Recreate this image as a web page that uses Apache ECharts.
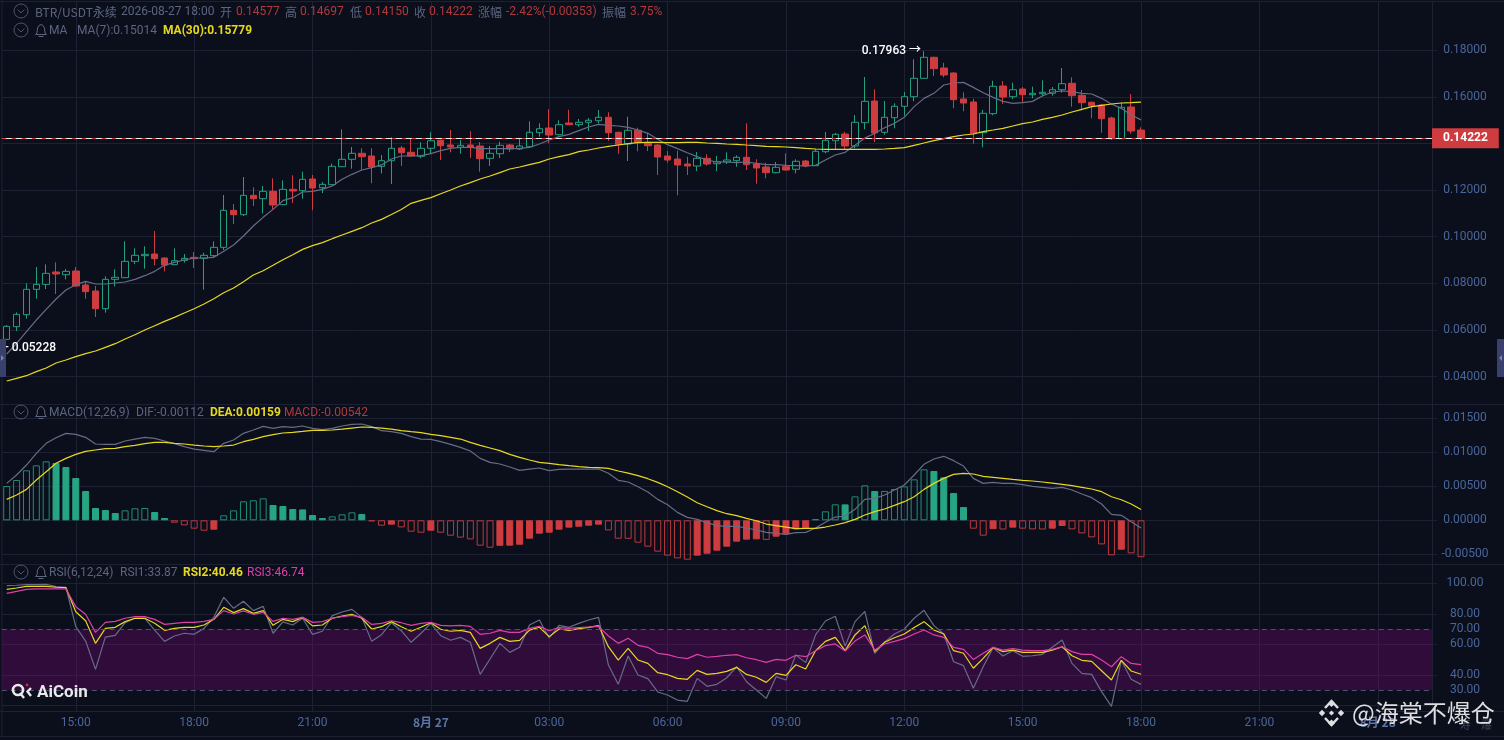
<!DOCTYPE html>
<html><head><meta charset="utf-8">
<style>html,body{margin:0;padding:0;background:#0b0f1c}#c{width:1504px;height:740px}</style>
<script src="https://cdn.jsdelivr.net/npm/echarts@6/dist/echarts.min.js"></script>
</head><body><div id="c"></div>
<script>
const opens=[0.05595,0.06138,0.06653,0.07741,0.07955,0.08485,0.08370,0.08527,0.07927,0.07669,0.06911,0.08170,0.08241,0.08942,0.09186,0.09257,0.09086,0.08799,0.08985,0.09114,0.09071,0.09186,0.09543,0.11131,0.10945,0.11775,0.11632,0.11947,0.11375,0.12033,0.11976,0.12476,0.12104,0.12233,0.13004,0.13322,0.13579,0.13464,0.13021,0.13262,
0.13807,0.13622,0.13451,0.13794,0.14137,0.13936,0.13837,0.13936,0.13893,0.13365,
0.13562,0.13936,0.13764,0.13863,0.14464,0.14665,0.14378,0.14880,0.14807,0.14910,
0.14979,0.15125,0.14481,0.13979,0.14567,0.14051,0.13936,0.13464,0.13335,0.13120,
0.13034,0.13365,0.13133,0.13206,0.13262,0.13408,0.13120,0.12991,0.12747,0.13004,
0.12893,0.13249,0.13047,0.13648,0.14120,0.14407,0.13893,0.14893,0.15824,0.14481,
0.15107,0.15597,0.16009,0.16798,0.17700,0.17240,0.17026,0.15910,0.15781,0.14464,
0.15279,0.16468,0.16009,0.16339,0.16094,0.16137,0.16155,0.16309,0.16584,0.16069,
0.15768,0.15652,0.15094,0.14206,0.15567,0.14577];
const closes=[0.06153,0.06668,0.07741,0.07955,0.08427,0.08399,0.08513,0.07884,0.07641,0.06911,0.08170,0.08256,0.08942,0.09200,0.09243,0.09057,0.08785,0.08971,0.09071,0.09057,0.09200,0.09543,0.11131,0.10945,0.11775,0.11632,0.11947,0.11360,0.12033,0.11961,0.12462,0.12090,0.12247,0.13020,0.13322,0.13579,0.13433,0.12991,0.13262,0.13794,
0.13605,0.13464,0.13794,0.14120,0.13906,0.13850,0.13923,0.13850,0.13348,0.13579,
0.13923,0.13764,0.13893,0.14481,0.14635,0.14365,0.14807,0.14807,0.14910,0.14996,
0.15125,0.14464,0.13966,0.14567,0.14051,0.13906,0.13421,0.13292,0.13077,0.13034,
0.13365,0.13120,0.13219,0.13292,0.13408,0.13090,0.12948,0.12747,0.12978,0.12863,
0.13236,0.13034,0.13665,0.14137,0.14395,0.13893,0.14910,0.15811,0.14451,0.15125,
0.15597,0.16009,0.16798,0.17700,0.17210,0.16940,0.15880,0.15738,0.14438,0.15296,
0.16455,0.15996,0.16309,0.16094,0.16155,0.16197,0.16309,0.16567,0.16051,0.15751,
0.15622,0.15064,0.14206,0.15554,0.14537,0.14222];
const lows=[0.05566,0.05952,0.06482,0.07340,0.07755,0.07540,0.08170,0.07855,0.07340,0.06553,0.06739,0.07870,0.08227,0.08828,0.08628,0.08771,0.08513,0.08785,0.08885,0.08656,0.07726,0.09114,0.09429,0.10545,0.10888,0.11317,0.11003,0.11174,0.11360,0.11446,0.11632,0.11131,0.11875,0.12204,0.12991,0.12918,0.12863,0.12292,0.12713,0.12262,
0.13034,0.13442,0.13365,0.13549,0.13292,0.13622,0.13562,0.13378,0.12790,0.13034,
0.13378,0.13635,0.13721,0.13850,0.14292,0.14009,0.14352,0.14794,0.14721,0.14537,
0.14867,0.14120,0.13562,0.13249,0.13665,0.13678,0.12648,0.13176,0.11777,0.12648,
0.12820,0.13047,0.12820,0.13120,0.13004,0.12863,0.12275,0.12506,0.12721,0.12833,
0.12721,0.12978,0.13034,0.13580,0.13751,0.13751,0.13794,0.14609,0.14064,0.14378,
0.14653,0.15193,0.15811,0.16768,0.16897,0.16841,0.15511,0.15382,0.13991,0.13837,
0.15210,0.15695,0.15910,0.15738,0.15940,0.16039,0.16051,0.16180,0.15579,0.15425,
0.15082,0.14464,0.14150,0.14193,0.14421,0.14150];
const highs=[0.06210,0.06754,0.07998,0.08699,0.08814,0.08900,0.08613,0.08699,0.08070,0.07884,0.08299,0.08599,0.09801,0.09500,0.09586,0.10244,0.09114,0.09500,0.09257,0.09343,0.09314,0.09801,0.11790,0.11403,0.12562,0.12119,0.12176,0.12505,0.12419,0.12634,0.12791,0.12648,0.12348,0.13134,0.14609,0.13850,0.13794,0.13794,0.13507,0.14266,
0.13893,0.14193,0.14051,0.14481,0.14172,0.14579,0.14150,0.14524,0.14064,0.13893,
0.14077,0.13979,0.14193,0.14953,0.14867,0.15468,0.14996,0.15451,0.15051,0.15095,
0.15438,0.15339,0.14506,0.15150,0.14678,0.14464,0.13979,0.13678,0.13691,0.13433,
0.13635,0.13537,0.13464,0.13622,0.13493,0.14867,0.13322,0.13176,0.13206,0.13579,
0.13322,0.13292,0.13777,0.14494,0.14451,0.14506,0.15223,0.16854,0.16326,0.15824,
0.15725,0.16210,0.17614,0.17963,0.17725,0.17468,0.17056,0.16197,0.15923,0.15438,
0.16695,0.16683,0.16610,0.16425,0.16438,0.16712,0.16425,0.17240,0.16841,0.16296,
0.15794,0.15695,0.15150,0.15751,0.16125,0.14697];
const ma7=[0.04965,0.05423,0.05924,0.06424,0.06882,0.07326,0.07712,0.07941,0.08084,0.07970,0.07970,0.08013,0.08056,0.08170,0.08327,0.08513,0.08771,0.08899,0.08999,0.09086,0.09086,0.09114,0.09372,0.09643,0.10030,0.10459,0.10831,0.11174,0.11546,0.11675,0.11918,0.11947,0.12033,0.12176,0.12462,0.12677,0.12863,0.12963,0.13080,0.13334,
0.13463,0.13463,0.13478,0.13563,0.13692,0.13792,0.13835,0.13835,0.13792,0.13778,0.13778,0.13778,0.13792,0.13835,0.13978,0.14150,0.14293,0.14393,0.14551,0.14708,0.14822,0.14779,0.14751,0.14694,0.14579,0.14436,0.14179,0.13950,0.13778,0.13606,0.13435,0.13292,0.13206,0.13206,0.13177,0.13206,
0.13148,0.13091,0.13091,0.13062,0.13048,0.13034,0.13062,0.13291,0.13506,0.13621,0.13921,0.14236,0.14436,0.14679,0.14865,0.15123,0.15581,0.15938,0.16153,0.16511,0.16596,0.16625,0.16410,0.16181,0.15981,0.15809,0.15724,0.15752,0.15809,0.16038,0.16210,0.16253,0.16224,0.16153,0.16124,0.15938,0.15695,0.15509,0.15223,0.15014];
const ma30=[0.03806,0.03921,0.04035,0.04207,0.04364,0.04579,0.04708,0.04851,0.04980,0.05094,0.05251,0.05409,0.05609,0.05795,0.05995,0.06181,0.06367,0.06539,0.06725,0.06911,0.07111,0.07340,0.07598,0.07798,0.08070,0.08356,0.08542,0.08771,0.09014,0.09229,0.09457,0.09615,0.09744,0.09915,0.10073,0.10230,0.10387,0.10588,0.10745,0.10950,
0.11170,0.11432,0.11560,0.11675,0.11846,0.12004,0.12176,0.12319,0.12476,0.12605,0.12748,0.12905,0.12991,0.13091,0.13191,0.13334,0.13435,0.13520,0.13649,0.13721,0.13807,0.13878,0.13935,0.13993,0.14035,0.14050,0.14050,0.14035,0.14035,0.14050,0.14050,0.14021,0.14007,0.13978,0.13964,0.13935,
0.13907,0.13878,0.13864,0.13849,0.13821,0.13792,0.13764,0.13749,0.13749,0.13749,0.13749,0.13749,0.13749,0.13764,0.13792,0.13821,0.13921,0.14021,0.14121,0.14207,0.14293,0.14364,0.14407,0.14508,0.14579,0.14651,0.14751,0.14851,0.14922,0.15037,0.15123,0.15223,0.15352,0.15466,0.15581,0.15638,0.15695,0.15738,0.15752,0.15779];
const macdHist=[0.00504,0.00593,0.00735,0.00808,0.00867,0.00843,0.00784,0.00622,0.00431,0.00181,0.00151,0.00107,0.00146,0.00176,0.00181,0.00122,0.00034,-0.00035,-0.00074,-0.00123,-0.00153,-0.00138,0.00073,0.00146,0.00279,0.00294,0.00323,0.00225,0.00210,0.00166,0.00160,0.00078,0.00034,0.00058,0.00088,0.00117,0.00093,-0.00015,-0.00079,-0.00064,
-0.00104,-0.00167,-0.00182,-0.00153,-0.00182,-0.00226,-0.00255,-0.00280,-0.00373,-0.00403,-0.00375,-0.00373,-0.00359,-0.00270,-0.00197,-0.00182,-0.00138,-0.00108,-0.00094,-0.00079,-0.00064,-0.00148,-0.00270,-0.00272,-0.00329,-0.00388,-0.00461,-0.00520,-0.00559,-0.00579,-0.00520,-0.00491,-0.00447,-0.00388,-0.00314,-0.00285,-0.00280,-0.00288,-0.00241,-0.00207,-0.00133,
-0.00118,0.00019,0.00132,0.00235,0.00234,0.00352,0.00514,0.00430,0.00432,0.00460,0.00499,0.00602,0.00749,0.00725,0.00632,0.00401,0.00195,-0.00123,-0.00226,-0.00130,-0.00135,-0.00108,-0.00123,-0.00133,-0.00135,-0.00123,-0.00084,-0.00133,-0.00192,-0.00251,-0.00354,-0.00515,-0.00432,-0.00486,-0.00542];
const macdDif=[0.00543,0.00666,0.00813,0.00985,0.01132,0.01215,0.01279,0.01264,0.01220,0.01122,0.01117,0.01117,0.01166,0.01195,0.01220,0.01205,0.01166,0.01127,0.01083,0.01048,0.01029,0.01009,0.01132,0.01181,0.01279,0.01328,0.01382,0.01352,0.01377,0.01367,0.01387,0.01352,0.01333,0.01352,0.01387,0.01411,0.01416,0.01377,0.01318,0.01303,
0.01279,0.01230,0.01195,0.01191,0.01156,0.01117,0.01073,0.01019,0.00911,0.00852,0.00828,0.00784,0.00735,0.00754,0.00769,0.00730,0.00749,0.00754,0.00754,0.00754,0.00754,0.00691,0.00588,0.00563,0.00494,0.00416,0.00308,0.00230,0.00117,0.00043,0.00014,-0.00035,-0.00079,-0.00089,-0.00089,-0.00113,-0.00143,-0.00177,-0.00192,-0.00207,-0.00182,
-0.00177,-0.00113,-0.00030,0.00048,0.00063,0.00161,0.00308,0.00323,0.00372,0.00445,0.00519,0.00666,0.00823,0.00901,0.00941,0.00877,0.00798,0.00617,0.00543,0.00558,0.00543,0.00543,0.00524,0.00499,0.00485,0.00470,0.00485,0.00445,0.00387,0.00333,0.00240,0.00088,0.00073,-0.00020,-0.00112];
const macdDea=[0.00308,0.00372,0.00455,0.00593,0.00715,0.00838,0.00911,0.00970,0.01014,0.01034,0.01053,0.01058,0.01083,0.01102,0.01127,0.01146,0.01146,0.01132,0.01122,0.01107,0.01093,0.01083,0.01093,0.01107,0.01156,0.01191,0.01230,0.01259,0.01284,0.01294,0.01308,0.01323,0.01323,0.01328,0.01342,0.01357,0.01372,0.01367,0.01357,0.01342,
0.01318,0.01303,0.01289,0.01264,0.01244,0.01220,0.01195,0.01146,0.01102,0.01063,0.01024,0.00970,0.00926,0.00887,0.00852,0.00838,0.00818,0.00803,0.00789,0.00779,0.00774,0.00764,0.00725,0.00695,0.00656,0.00612,0.00558,0.00494,0.00421,0.00342,0.00259,0.00200,0.00142,0.00097,0.00068,0.00029,-0.00006,-0.00055,-0.00079,-0.00099,-0.00123,
-0.00118,-0.00118,-0.00099,-0.00069,-0.00035,0.00014,0.00078,0.00127,0.00166,0.00220,0.00274,0.00347,0.00455,0.00543,0.00617,0.00676,0.00691,0.00681,0.00646,0.00632,0.00617,0.00602,0.00588,0.00578,0.00563,0.00548,0.00529,0.00509,0.00485,0.00460,0.00421,0.00347,0.00303,0.00240,0.00159];
const rsi1=[98.4,98.7,99.1,99.1,99.3,97.8,97.4,71.6,62.2,43.7,64.8,65.9,74.2,77.1,77.1,69.4,62.0,65.5,67.3,66.6,70.5,77.7,90.8,83.6,88.2,82.1,84.9,67.3,74.7,72.7,77.1,66.6,68.6,78.8,81.2,82.9,77.7,62.0,66.4,74.2,
69.0,61.4,67.3,73.8,65.7,62.7,64.6,61.4,40.4,50.5,60.7,54.8,58.1,72.7,76.0,64.2,72.5,71.2,73.8,76.0,77.7,46.5,33.9,52.4,40.0,37.6,28.9,26.9,23.6,22.8,37.8,32.6,33.9,38.2,45.4,35.6,30.2,24.7,38.9,36.7,53.1,
48.1,66.2,75.3,78.4,58.9,74.9,81.6,54.2,61.4,66.8,70.1,77.1,82.3,72.3,66.8,48.7,46.1,31.3,45.4,57.9,52.4,55.9,52.2,52.6,53.5,58.1,62.9,47.6,41.1,40.4,29.1,19.5,49.6,37.2,33.87];
const rsi2=[96.0,96.9,98.0,98.0,98.0,97.4,97.1,81.4,75.5,60.7,70.5,71.2,74.9,77.1,77.1,73.8,69.2,70.5,71.2,71.2,72.7,76.4,84.3,80.8,83.4,80.3,82.1,72.5,76.4,74.9,77.7,72.1,72.7,77.1,78.6,79.7,77.1,70.1,71.6,74.9,
71.6,68.6,71.2,74.2,69.9,68.6,69.2,67.9,57.4,60.7,64.6,62.0,62.7,69.4,71.2,65.1,70.1,69.2,70.3,71.2,72.3,58.5,49.8,57.4,49.8,47.6,41.5,40.2,37.8,37.2,43.0,40.4,41.1,42.4,45.0,40.4,38.5,35.2,41.1,39.8,46.7,
43.9,55.9,62.0,64.6,55.9,66.2,72.3,55.3,61.4,64.4,66.8,71.0,74.9,69.4,66.8,55.9,54.2,44.4,50.9,58.1,55.3,56.3,54.8,54.8,54.8,56.3,58.5,52.6,49.6,48.9,42.8,36.7,49.6,42.6,40.46];
const rsi3=[93.4,94.7,96.0,96.3,96.3,96.3,96.3,84.7,79.7,67.9,74.4,75.1,77.1,78.2,78.2,76.4,73.1,73.8,74.4,74.4,75.1,76.4,82.1,79.9,81.9,79.7,81.0,75.1,77.1,76.4,77.7,74.4,74.9,77.1,78.2,79.0,77.7,73.1,73.8,75.5,
74.2,72.5,73.8,74.4,72.5,72.1,72.5,71.8,66.6,67.3,69.2,67.9,67.9,70.5,71.8,69.0,71.0,70.5,71.0,71.4,71.8,65.5,60.7,64.0,59.4,58.1,54.2,53.3,51.6,50.7,53.5,51.6,52.2,52.9,53.3,51.3,50.0,48.3,50.2,49.6,52.9,
52.0,55.9,59.2,60.3,55.7,62.2,66.2,56.3,60.3,62.0,63.8,66.8,69.4,66.2,64.6,58.1,56.8,50.2,54.2,58.1,56.3,57.2,56.3,55.9,55.9,56.8,58.5,55.3,53.5,53.5,49.8,45.4,52.0,47.6,46.74];
const priceTicks=[0.04,0.06,0.08,0.10,0.12,0.14,0.16,0.18];
const priceLabels=[0.04,0.06,0.08,0.10,0.12,0.16,0.18];
const macdTicks=[-0.005,0,0.005,0.01,0.015];
const rsiLabels=[30,40,60,70,80,100];
const rsiLines=[20,40,60,80,100];
const lastPrice=0.14222, peakPrice=0.17963, lowPrice=0.05228;

const categories=[];
for(let k=0;k<145;k++){
  const t=795+15*k;
  if(t===1440)categories.push('8月 27');
  else if(t===2880)categories.push('8月 28');
  else{const m=t%1440;categories.push(String(Math.floor(m/60)).padStart(2,'0')+':'+String(m%60).padStart(2,'0'));}
}
const isTick=(i,v)=>{const c=categories[i];return c.indexOf('月')>=0||(c.endsWith(':00')&&parseInt(c)%3===0&&i>=7);};

const BG='#0b0f1c',GRID='#1d2133',TXT='#5d6480',AX='#4a659a',RED='#cf3c3f',GREEN='#22a07f',YEL='#e6d820',PINK='#df3fa8',GREY='#676c88';
const FONT='Roboto,"Noto Sans CJK SC",sans-serif',CJK='"Noto Sans CJK SC",Roboto,sans-serif';

const candle=opens.map((o,i)=>[o,closes[i],lows[i],highs[i]]);
const macdBars=macdHist.map((v,i)=>{
  const c=v>=0?'#27a583':RED;
  const hollow=i===0||((v>=0)===(v>macdHist[i-1]));
  return {value:v,itemStyle:{color:hollow?'rgba(0,0,0,0)':c,borderColor:hollow?(v>=0?'#1f8f74':'#b93a3d'):c,borderWidth:1}};
});

const L=1.8,RIGHT=1504-1432;
const grids=[{left:L,right:RIGHT,top:1.7,height:402.6},{left:L,right:RIGHT,top:404.3,height:160},{left:L,right:RIGHT,top:564.3,height:147.4}];
const xa=(gi,show)=>({type:'category',gridIndex:gi,data:categories,boundaryGap:true,
  axisLine:{show:false},axisTick:{show:false},
  splitLine:{show:true,alignWithLabel:true,interval:isTick,lineStyle:{color:GRID,width:1}},
  axisLabel:{show,interval:isTick,margin:5,color:AX,fontSize:12,fontFamily:FONT,
    formatter:v=>v.indexOf('月')>=0?'{d|'+v+'}':v,rich:{d:{fontWeight:'bold',fontFamily:CJK,color:'#5c74a3',fontSize:12}}}});
const ya=(gi,min,max,labels,ticks,dec)=>({type:'value',gridIndex:gi,position:'right',min,max,scale:true,
  axisLine:{show:true,lineStyle:{color:GRID}},
  axisTick:{show:true,length:5,customValues:ticks,lineStyle:{color:GRID}},
  splitLine:{show:true,lineStyle:{color:GRID,width:1}},
  axisLabel:{customValues:labels,margin:33,align:'center',color:AX,fontSize:12,fontFamily:FONT,padding:[2,0,0,0],formatter:v=>Number(v).toFixed(dec),showMinLabel:true,showMaxLabel:true}});

const line=(name,data,x,color,w,extra)=>Object.assign({name,type:'line',data,xAxisIndex:x,yAxisIndex:x,showSymbol:false,symbol:'none',smooth:false,silent:true,lineStyle:{color,width:w},emphasis:{disabled:true}},extra||{});

const g=[];
function txt(x,y,s,color,o){o=o||{};g.push({type:'text',x,y,silent:true,z:100,style:{text:s,fill:color,font:(o.bold?'bold ':'')+(o.size||12)+'px '+(o.font||FONT),verticalAlign:'middle',align:o.align||'left',opacity:o.op==null?1:o.op}});}
function chev(y){
  g.push({type:'circle',silent:true,z:100,shape:{cx:21,cy:y,r:7},style:{fill:'none',stroke:'#4d5470',lineWidth:1}});
  g.push({type:'polyline',silent:true,z:100,shape:{points:[[17.5,y-1.5],[21,y+2],[24.5,y-1.5]]},style:{fill:'none',stroke:'#4d5470',lineWidth:1}});
}
function bell(y){
  g.push({type:'polygon',silent:true,z:100,shape:{points:[[37,y+3],[37.5,y-2],[39,y-4.5],[41,y-5.5],[43,y-4.5],[44.5,y-2],[45,y+3],[46.5,y+4.5],[35.5,y+4.5]]},style:{fill:'none',stroke:'#5d6480',lineWidth:1}});
  g.push({type:'line',silent:true,z:100,shape:{x1:38.5,y1:y+6.5,x2:43.5,y2:y+6.5},style:{stroke:'#5d6480',lineWidth:1}});
}
function hline(y,x2,c){g.push({type:'line',silent:true,z:1,shape:{x1:0,y1:y,x2:x2||1504,y2:y},style:{stroke:c||GRID,lineWidth:1}});}
[1.5,404.5,564.5,711.5,736.5].forEach(y=>hline(y));
g.push({type:'line',silent:true,z:1,shape:{x1:2,y1:0,x2:2,y2:737},style:{stroke:GRID,lineWidth:1}});

chev(11);chev(30);chev(412);chev(572);bell(30);bell(412);bell(572);
const dr='#b0393c';
const R1=12,R2=31,R3=413,R4=573;
txt(35,R1,'BTR/USDT永续',TXT,{font:CJK});
txt(121,R1,'2026-08-27 18:00',TXT);
txt(220,R1,'开',TXT,{font:CJK});txt(236,R1,'0.14577',dr);
txt(285,R1,'高',TXT,{font:CJK});txt(300,R1,'0.14697',dr);
txt(350,R1,'低',TXT,{font:CJK});txt(365,R1,'0.14150',dr);
txt(414,R1,'收',TXT,{font:CJK});txt(429,R1,'0.14222',dr);
txt(478,R1,'涨幅',TXT,{font:CJK});txt(506,R1,'-2.42%(-0.00353)',dr);
txt(602,R1,'振幅',TXT,{font:CJK});txt(630,R1,'3.75%',dr);
txt(49,R2,'MA',TXT);txt(77,R2,'MA(7):0.15014',TXT);txt(163,R2,'MA(30):0.15779',YEL,{bold:true});
txt(49,R3,'MACD(12,26,9)',TXT);txt(136,R3,'DIF:-0.00112',TXT);txt(210,R3,'DEA:0.00159',YEL,{bold:true});txt(284,R3,'MACD:-0.00542',dr);
txt(49,R4,'RSI(6,12,24)',TXT);txt(120,R4,'RSI1:33.87',TXT);txt(183,R4,'RSI2:40.46',YEL,{bold:true});txt(247,R4,'RSI3:46.74',PINK);
// side handles
g.push({type:'rect',silent:true,z:100,shape:{x:0,y:339,width:6,height:38},style:{fill:'#39406b'}});
g.push({type:'polygon',silent:true,z:101,shape:{points:[[1,355],[4,358],[1,361]]},style:{fill:'#7d84a5'}});
g.push({type:'rect',silent:true,z:100,shape:{x:1497,y:339,width:7,height:38},style:{fill:'#39406b'}});
g.push({type:'polygon',silent:true,z:101,shape:{points:[[1502,355],[1499,358],[1502,361]]},style:{fill:'#7d84a5'}});
// logos and watermark
const lg='#e8e8ec';
g.push({type:'circle',silent:true,z:100,shape:{cx:18,cy:690,r:5},style:{fill:'none',stroke:lg,lineWidth:2.6}});
g.push({type:'line',silent:true,z:100,shape:{x1:20,y1:693,x2:24,y2:698},style:{stroke:lg,lineWidth:2.4}});
g.push({type:'polyline',silent:true,z:100,shape:{points:[[31,688],[27.5,691.5],[31,696]]},style:{fill:'none',stroke:lg,lineWidth:2.4}});
g.push({type:'circle',silent:true,z:100,shape:{cx:27,cy:685,r:1.4},style:{fill:'#b8393c'}});
txt(37,693,'AiCoin',lg,{bold:true,size:17});
txt(1460,725,'寿','#3d4358',{size:11,font:CJK});txt(1481,725,'爆','#3d4358',{size:11,font:CJK});
const wm='#dedee0';
[[1331.5,703.5,3.6],[1322,713,3.2],[1341,713,3.2],[1331.5,713,2.6],[1331.5,723,3.6]].forEach(d=>{
  g.push({type:'polygon',silent:true,z:110,shape:{points:[[d[0],d[1]-d[2]],[d[0]+d[2],d[1]],[d[0],d[1]+d[2]],[d[0]-d[2],d[1]]]},style:{fill:wm}});
});
g.push({type:'polyline',silent:true,z:110,shape:{points:[[1325,708],[1331.5,701],[1338,708]]},style:{fill:'none',stroke:wm,lineWidth:2.5}});
g.push({type:'polyline',silent:true,z:110,shape:{points:[[1325,718],[1331.5,725],[1338,718]]},style:{fill:'none',stroke:wm,lineWidth:2.5}});
txt(1352,713,'@海棠不爆仓',wm,{size:24,font:CJK});

const chart=echarts.init(document.getElementById('c'),null,{renderer:'canvas'});
chart.setOption({
  animation:false,backgroundColor:BG,tooltip:{show:false},
  grid:grids,
  xAxis:[xa(0,false),xa(1,false),xa(2,true)],
  yAxis:[
    ya(0,0.02807,0.20086,priceLabels,priceTicks,5),
    ya(1,-0.00647,0.01706,macdTicks,macdTicks,5),
    ya(2,16.0,112.4,rsiLabels,rsiLines,2)
  ],
  series:[
    {name:'K',type:'candlestick',xAxisIndex:0,yAxisIndex:0,data:candle,barWidth:7,silent:true,
      itemStyle:{color:BG,color0:RED,borderColor:GREEN,borderColor0:RED,borderWidth:1},
      markLine:{silent:true,symbol:'none',animation:false,precision:5,
        data:[
          {yAxis:lastPrice,lineStyle:{color:'#f2f2f2',type:'solid',width:1},
            label:{show:true,position:'end',distance:0,formatter:'0.14222',backgroundColor:RED,color:'#fff',fontWeight:'bold',fontSize:12,fontFamily:FONT,padding:[4,11,4,11]}},
          {yAxis:lastPrice,lineStyle:{color:RED,type:[4,6],width:1},label:{show:false}}
        ]},
      markPoint:{silent:true,symbol:'circle',symbolSize:0,animation:false,
        data:[
          {coord:[93,peakPrice],label:{show:true,position:'left',distance:3,formatter:'0.17963 →',color:'#fff',fontSize:12,fontWeight:500,fontFamily:FONT}},
          {coord:[0,lowPrice],label:{show:true,position:'right',distance:0,offset:[-2,0],formatter:'- 0.05228',color:'#fff',fontSize:12,fontWeight:500,fontFamily:FONT}}
        ]}},
    line('MA7',ma7,0,GREY,1.2),
    line('MA30',ma30,0,YEL,1.2),
    {name:'MACD',type:'bar',xAxisIndex:1,yAxisIndex:1,data:macdBars,barWidth:7,silent:true},
    line('DIF',macdDif,1,GREY,1.2),
    line('DEA',macdDea,1,YEL,1.2),
    line('RSI1',rsi1,2,GREY,1.2,{
      markArea:{silent:true,itemStyle:{color:'rgba(131,8,128,0.30)'},data:[[{yAxis:70},{yAxis:30}]]},
      markLine:{silent:true,symbol:'none',label:{show:false},lineStyle:{color:'#4d5470',type:[5,4],width:1},data:[{yAxis:70},{yAxis:30}]}
    }),
    line('RSI2',rsi2,2,YEL,1.2),
    line('RSI3',rsi3,2,PINK,1.2)
  ],
  graphic:{elements:g}
});
</script></body></html>
